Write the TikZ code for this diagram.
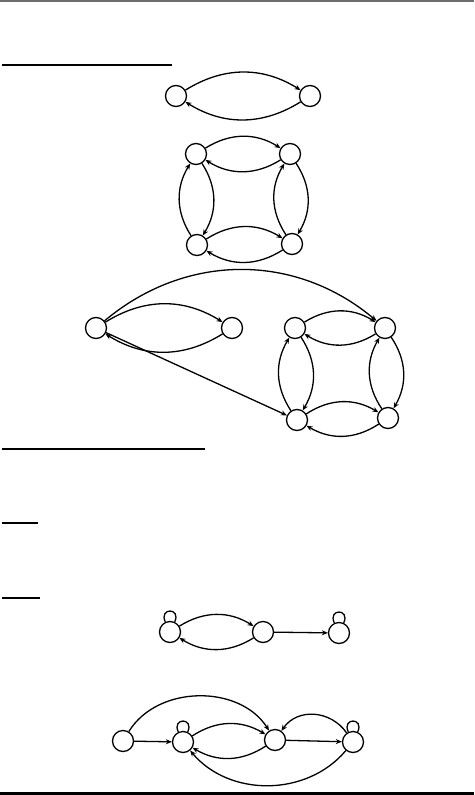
\documentclass[tikz,border=0pt]{standalone}
\usetikzlibrary{arrows.meta}
\begin{document}
\begin{tikzpicture}[x=1pt,y=1pt,
  st/.style={circle,draw,line width=1.3pt,minimum size=21pt,inner sep=0pt},
  ar/.style={line width=1.3pt,-{Stealth[length=6pt,width=5pt]}},
  lp/.style={line width=1.3pt,out=115,in=65,distance=16pt},
  rule/.style={line width=1.6pt}]
\useasboundingbox (0,0) rectangle (474,-795);
\fill[gray!85!black] (0,0) rectangle (474,-2.2);
\fill[black] (0,-791.8) rectangle (474,-795);
% rules
\coordinate (r1a) at (2,-65); \coordinate (r1b) at (172,-65);
\coordinate (r2a) at (2,-449); \coordinate (r2b) at (205,-449);
\coordinate (r3a) at (2,-523); \coordinate (r3b) at (38,-523);
\coordinate (r4a) at (2,-598); \coordinate (r4b) at (40,-598);
\draw[rule] (r1a) -- (r1b);
\draw[rule] (r2a) -- (r2b);
\draw[rule] (r3a) -- (r3b);
\draw[rule] (r4a) -- (r4b);
% graph 1
\node[st] (a1) at (176,-96) {};
\node[st] (a2) at (310,-96) {};
\draw[ar] (a1) to[bend left=32] (a2);
\draw[ar] (a2) to[bend left=32] (a1);
% graph 2
\node[st] (b1) at (196,-154) {};
\node[st] (b2) at (290,-154) {};
\node[st] (b3) at (197,-245) {};
\node[st] (b4) at (292,-244) {};
\foreach \u/\v in {b1/b2,b2/b1,b1/b3,b3/b1,b2/b4,b4/b2,b3/b4,b4/b3}
  \draw[ar] (\u) to[bend left=32] (\v);
% graph 3
\node[st] (c0) at (96,-328) {};
\node[st] (c1) at (232,-328) {};
\node[st] (c2) at (295,-328) {};
\node[st] (c3) at (385,-328) {};
\node[st] (c4) at (297,-420) {};
\node[st] (c5) at (388,-418) {};
\draw[ar] (c0) to[bend left=32] (c1);
\draw[ar] (c1) to[bend left=32] (c0);
\foreach \u/\v in {c2/c3,c3/c2,c2/c4,c4/c2,c3/c5,c5/c3,c4/c5,c5/c4}
  \draw[ar] (\u) to[bend left=32] (\v);
\draw[ar] (c0) to[bend left=40] (c3);
\draw[ar] (c0) -- (c4);
% graph 4
\node[st] (d1) at (170,-632) {};
\node[st] (d2) at (263,-632) {};
\node[st] (d3) at (339,-633) {};
\draw[ar] (d1) to[bend left=32] (d2);
\draw[ar] (d2) to[bend left=32] (d1);
\draw[ar] (d2) -- (d3);
\draw[lp] (d1) to (d1);
\draw[lp] (d3) to (d3);
% graph 5
\node[st] (e1) at (123,-741) {};
\node[st] (e2) at (183,-742) {};
\node[st] (e3) at (275,-740) {};
\node[st] (e4) at (353,-742) {};
\draw[ar] (e1) -- (e2);
\draw[ar] (e1) to[bend left=58] (e3);
\draw[ar] (e2) to[bend left=32] (e3);
\draw[ar] (e3) to[bend left=32] (e2);
\draw[ar] (e4) to[out=125,in=55,looseness=1.1] (e3);
\draw[ar] (e3) -- (e4);
\draw[ar] (e4) to[bend left=50] (e2);
\draw[lp] (e2) to (e2);
\draw[lp] (e4) to (e4);
\end{tikzpicture}
\end{document}
